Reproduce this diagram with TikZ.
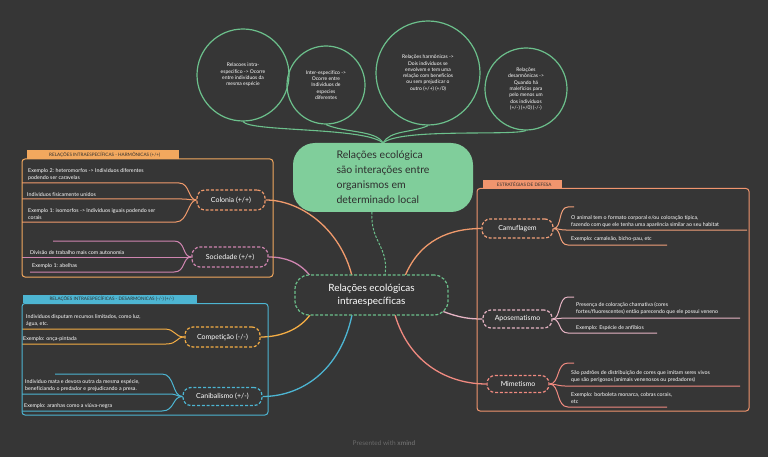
\documentclass[tikz,border=0pt]{standalone}
\usepackage{fontspec}
\setmainfont{Lato}[Ligatures=NoCommon]
\newcommand\arw{-\kern0pt>}
\definecolor{bg}{HTML}{363636}
\definecolor{gline}{HTML}{6CC08C}
\definecolor{gfill}{HTML}{80CE9B}
\definecolor{corange}{HTML}{F09A6C}
\definecolor{cpink}{HTML}{CF85B0}
\definecolor{cyellow}{HTML}{F5AE45}
\definecolor{cblue}{HTML}{4DB5D2}
\definecolor{ccamu}{HTML}{F2A07A}
\definecolor{capo}{HTML}{E6B4C4}
\definecolor{cmim}{HTML}{F08A80}
\definecolor{hharm}{HTML}{F2A85E}
\definecolor{hdef}{HTML}{F0956E}
\definecolor{darktxt}{HTML}{2E2E2E}
\pgfdeclarelayer{back}
\pgfsetlayers{back,main}
\tikzset{
  bubble/.style={circle, draw=gline, line width=1.2pt, text=white, align=center,
    font=\fontsize{5}{6.3}\selectfont, inner sep=0pt},
  topicbox/.style={draw, line width=1.2pt, dash pattern=on 3pt off 1.8pt, rounded corners=8pt,
    fill=bg, text=white, font=\fontsize{7}{8}\selectfont, inner sep=0pt},
  txt/.style={text=white, font=\fontsize{5.3}{7.2}\selectfont, align=left, inner sep=0pt, anchor=south west},
  hdr/.style={fill=#1, text=darktxt, font=\fontsize{4.6}{5}\selectfont, inner sep=0pt, anchor=south west},
  conn/.style={line width=1.3pt, draw=#1},
  sub/.style={line width=1pt, draw=#1},
  boxline/.style={line width=1pt, draw=#1, rounded corners=3pt},
}
\begin{document}
\begin{tikzpicture}[x=1pt,y=-1pt]
\useasboundingbox (0,0) rectangle (768,457);
\begin{pgfonlayer}{back}
\fill[bg] (0,0) rectangle (768,457);
\end{pgfonlayer}

% top bubbles
\node[bubble, minimum size=92pt] (b1) at (243,75) {Relacoes intra-\\especifico \arw{} Ocorre\\entre individuos da\\mesma espécie};
\node[bubble, minimum size=78pt] (b2) at (326,85) {Inter-especifico \arw\\Ocorre entre\\Individuos de\\especies\\diferentes};
\node[bubble, minimum size=104pt] (b3) at (428,73) {Relações harmônicas \arw\\Dois individuos se\\envolvem e tem uma\\relação com beneficios\\ou sem prejudicar o\\outro (+/+) (+/0)};
\node[bubble, minimum size=82pt] (b4) at (526,89) {Relações\\desarmônicas \arw\\Quando há\\malefícios para\\pelo menos um\\dos individuos\\(+/-) (+/0) (-/-)};

% green node
\node[fill=gfill, rounded corners=22pt, minimum width=180pt, minimum height=69pt, align=left,
  text=darktxt, font=\fontsize{10.5}{15}\selectfont, inner sep=0pt] (g) at (383,177.5)
  {Relações ecológica\\são interações entre\\organismos em\\determinado local};

% central node
\node[topicbox, draw=gline, rounded corners=14pt, minimum width=153pt, minimum height=40pt,
  align=center, font=\fontsize{10}{13}\selectfont] (c) at (371.5,295)
  {Relações ecológicas\\intraespecíficas};

% headers and boxes
\node[hdr=hharm, minimum width=152pt, minimum height=9pt] (h1) at (27,159) {\hspace{3pt}RELAÇÕES INTRAESPECÍFICAS - HARMÔNICAS (+/+)};
\draw[boxline=hharm] (22,159) rectangle (273,277);
\node[hdr=cblue, minimum width=174pt, minimum height=8.5pt] (h2) at (23,303.5) {\hspace{3pt}RELAÇÕES INTRAESPECÍFICAS - DESARMONICAS (-/-) (+/-)};
\draw[boxline=cblue] (22,303.5) rectangle (268,415);
\node[hdr=hdef, minimum width=79pt, minimum height=8.5pt] (h3) at (483,188.5) {\hspace{3pt}ESTRATÉGIAS DE DEFESA};
\draw[boxline=hdef] (477,188.5) rectangle (749,411);

% topics
\node[topicbox, draw=corange, minimum width=68pt, minimum height=20pt] (col) at (231,200) {Colonia (+/+)};
\node[topicbox, draw=cpink, minimum width=76pt, minimum height=20pt] (soc) at (230,257) {Sociedade (+/+)};
\node[topicbox, draw=cyellow, minimum width=75pt, minimum height=20pt] (comp) at (222.5,337) {Competição (-/-)};
\node[topicbox, draw=cblue, minimum width=79pt, minimum height=18pt] (can) at (222.5,396.5) {Canibalismo (+/-)};
\node[topicbox, draw=ccamu, minimum width=71pt, minimum height=19pt] (cam) at (517.5,228.5) {Camuflagem};
\node[topicbox, draw=capo, minimum width=69pt, minimum height=18pt] (apo) at (517.5,319) {Aposematismo};
\node[topicbox, draw=cmim, minimum width=62pt, minimum height=17pt] (mim) at (518,384) {Mimetismo};

% texts
\node[txt] (t1) at (28,180.5) {Exemplo 2: heteromorfos \arw{} Individuos diferentes\\podendo ser caravelas};
\node[txt] (t2) at (27,196.5) {Individuos fisicamente unidos};
\node[txt] (t3) at (28,219.5) {Exemplo 1: isomorfos \arw{} Individuos iguais podendo ser\\corais};
\node[txt] (t4) at (30,254.5) {Divisão de trabalho mais com autonomia};
\node[txt] (t5) at (32,269) {Exemplo 1: abelhas};
\node[txt] (t6) at (26,326.5) {Individuos disputam recursos limitados, como luz,\\água, etc.};
\node[txt] (t7) at (23,341.5) {Exemplo: onça-pintada};
\node[txt] (t8) at (25,391.5) {Individuo mata e devora outra da mesma espécie,\\beneficiando o predador e prejudicando a presa.};
\node[txt] (t9) at (24,408.5) {Exemplo: aranhas como a viúva-negra};
\node[txt] (t10) at (571,227.5) {O animal tem o formato corporal e/ou coloração típica,\\fazendo com que ele tenha uma aparência similar ao seu habitat};
\node[txt] (t11) at (571,242) {Exemplo: camaleão, bicho-pau, etc};
\node[txt] (t12) at (576,315) {Presença de coloração chamativa (cores\\fortes/fluorescentes) então parecendo que ele possui veneno};
\node[txt] (t13) at (576,330.5) {Exemplo: Espécie de anfíbios};
\node[txt] (t14) at (571,383) {São padrões de distribuição de cores que imitam seres vivos\\que são perigosos (animais venenosos ou predadores)};
\node[txt] (t15) at (571,404) {Exemplo: borboleta monarca, cobras corais,\\etc};

% footer
\node[text=gray!70!bg, font=\fontsize{6.5}{7}\selectfont] (foot) at (384,443) {Presented with \textbf{xmind}};

% coordinates on central node
\coordinate (cCol) at (352,276);
\coordinate (cSoc) at (311,277);
\coordinate (cComp) at (311,313.5);
\coordinate (cCan) at (352,315);
\coordinate (cCam) at (405,276);
\coordinate (cApo) at (442,311);
\coordinate (cMim) at (395,315);
\coordinate (gTop) at (383,143);
\coordinate (gBot) at (372,212);
\coordinate (cTop) at (385,275);

% sub-line end points
\coordinate (e1) at (22,183); \coordinate (e2) at (22,199); \coordinate (e3) at (22,222);
\coordinate (e4) at (53,241); \coordinate (e5) at (22,257); \coordinate (e6) at (30,272);
\coordinate (e7) at (22,329); \coordinate (e8) at (22,344);
\coordinate (e9) at (55,374); \coordinate (e10) at (22,394); \coordinate (e11) at (22,411);
\coordinate (f1) at (574,207); \coordinate (f2) at (747,230); \coordinate (f3) at (667,245);
\coordinate (f4) at (574,297); \coordinate (f5) at (740,318); \coordinate (f6) at (657,333);
\coordinate (f7) at (574,363); \coordinate (f8) at (740,386); \coordinate (f9) at (667,407);

\begin{pgfonlayer}{back}
% bubble connectors
\draw[conn=gline, line width=1.1pt] (b1.south) .. controls (250,132) and (365,127) .. (gTop);
\draw[conn=gline, line width=1.1pt] (b2.south) .. controls (345,133) and (376,130) .. (gTop);
\draw[conn=gline, line width=1.1pt] (b3.south) .. controls (412,133) and (390,130) .. (gTop);
\draw[conn=gline, line width=1.1pt] (b4.south) .. controls (512,136) and (400,128) .. (gTop);
% green to centre
\draw[conn=gline, line width=1pt, dash pattern=on 2.5pt off 1.5pt] (gBot) .. controls (370,242) and (389,246) .. (cTop);
% main branches
\draw[conn=corange] (cCol) .. controls (340,228) and (300,200) .. (col.east);
\draw[conn=cpink] (cSoc) .. controls (300,262) and (285,257) .. (soc.east);
\draw[conn=cyellow] (cComp) .. controls (300,330) and (280,337) .. (comp.east);
\draw[conn=cblue] (cCan) .. controls (340,372) and (300,396.5) .. (can.east);
\draw[conn=corange] (cCam) .. controls (420,240) and (450,228.5) .. (cam.west);
\draw[conn=capo] (cApo) .. controls (460,318) and (470,319) .. (apo.west);
\draw[conn=cmim] (cMim) .. controls (410,365) and (450,384) .. (mim.west);
% children lines left
\draw[sub=corange] (col.west) .. controls (188,200) and (190,183) .. (179,183) -- (e1);
\draw[sub=corange] (col.west) .. controls (190,200) and (188,199) .. (182,199) -- (e2);
\draw[sub=corange] (col.west) .. controls (188,200) and (188,222) .. (176,222) -- (e3);
\draw[sub=cpink] (soc.west) .. controls (182,257) and (186,241) .. (174,241) -- (e4);
\draw[sub=cpink] (soc.west) -- (e5);
\draw[sub=cpink] (soc.west) .. controls (182,257) and (186,272) .. (174,272) -- (e6);
\draw[sub=cyellow] (comp.west) .. controls (174,337) and (176,329) .. (164,329) -- (e7);
\draw[sub=cyellow] (comp.west) .. controls (176,337) and (178,344) .. (166,344) -- (e8);
\draw[sub=cblue] (can.west) .. controls (172,396.5) and (175,374) .. (162,374) -- (e9);
\draw[sub=cblue] (can.west) .. controls (176,396.5) and (178,394) .. (169,394) -- (e10);
\draw[sub=cblue] (can.west) .. controls (172,396.5) and (175,411) .. (162,411) -- (e11);
% children lines right
\draw[sub=ccamu] (cam.east) .. controls (562,228.5) and (558,207) .. (568,207) -- (f1);
\draw[sub=ccamu] (cam.east) .. controls (558,228.5) and (560,230) .. (566,230) -- (f2);
\draw[sub=ccamu] (cam.east) .. controls (562,228.5) and (558,245) .. (568,245) -- (f3);
\draw[sub=capo] (apo.east) .. controls (561,319) and (558,297) .. (568,297) -- (f4);
\draw[sub=capo] (apo.east) .. controls (558,319) and (560,318) .. (566,318) -- (f5);
\draw[sub=capo] (apo.east) .. controls (561,319) and (558,333) .. (568,333) -- (f6);
\draw[sub=cmim] (mim.east) .. controls (560,384) and (556,363) .. (568,363) -- (f7);
\draw[sub=cmim] (mim.east) .. controls (556,384) and (558,386) .. (565,386) -- (f8);
\draw[sub=cmim] (mim.east) .. controls (560,384) and (556,407) .. (568,407) -- (f9);
\end{pgfonlayer}
\end{tikzpicture}
\end{document}
